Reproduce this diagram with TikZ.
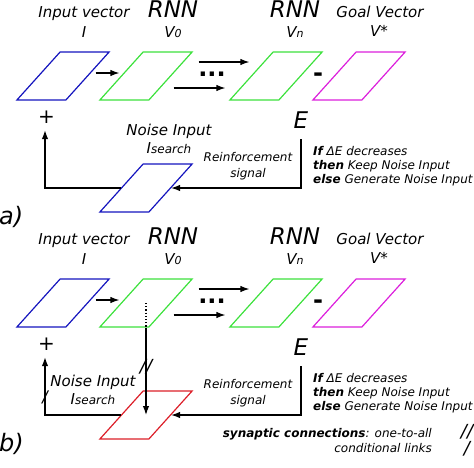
\documentclass[tikz,border=0pt]{standalone}
\usepackage{fontspec}
\setmainfont{DejaVu Sans}
\usepackage{tikz}
\usetikzlibrary{calc}
\usetikzlibrary{arrows.meta}

\definecolor{inblue}{RGB}{20,20,190}
\definecolor{rnngreen}{RGB}{60,225,60}
\definecolor{goalmag}{RGB}{220,30,220}
\definecolor{noisered}{RGB}{220,30,40}
\newcommand{\fsz}[1]{\fontsize{#1}{#1}\selectfont}

\begin{document}
\begin{tikzpicture}[x=1pt,y=-1pt,
    font=\itshape,inner sep=0pt,
    vecn/.style={draw,line width=1.2pt,minimum width=49pt,minimum height=48pt,xslant=0.9},
    titlen/.style={font=\fsz{15}\itshape,anchor=base},
    bign/.style={font=\fsz{23}\itshape,anchor=base},
    smalln/.style={font=\fontsize{12}{16}\selectfont\itshape},
    linkn/.style={line width=1.2pt,-{Latex[length=9pt,width=6.5pt]}}]
  \useasboundingbox (0,0) rectangle (474,467);
  % the two panels share the same layout
  \foreach \p/\dy/\nc in {a/0/inblue,b/227/noisered}{
  \begin{scope}[yshift=-\dy pt]
    \node[titlen] (\p-intitle) at (84,17) {Input vector};
    \node[titlen] (\p-insym) at (84,37) {I};
    \node[bign] (\p-rnn0) at (173,17.5) {RNN};
    \node[titlen] (\p-v0sym) at (173,37) {V{\fsz{11}0}};
    \node[bign] (\p-rnnn) at (295,17.5) {RNN};
    \node[titlen] (\p-vnsym) at (295,37) {V{\fsz{11}n}};
    \node[titlen] (\p-goaltitle) at (380,17) {Goal Vector};
    \node[titlen] (\p-goalsym) at (379,36) {V*};
    % vectors
    \node[vecn,draw=inblue] (\p-in) at (63,76) {};
    \node[vecn,draw=rnngreen] (\p-v0) at (146,76) {};
    \node[vecn,draw=rnngreen] (\p-vn) at (276,76) {};
    \node[vecn,draw=goalmag] (\p-goal) at (359,76) {};
    \node[vecn,draw=\nc] (\p-noise) at (146,188) {};
    \draw[linkn,shorten <=7.5pt,shorten >=1.5pt] ([yshift=3pt]\p-in.east) -- ([yshift=3pt]\p-v0.west);
    \draw[linkn,shorten <=27.5pt,shorten >=1.5pt] ([yshift=14pt]\p-v0.east) -- ([yshift=14pt]\p-vn.west);
    \draw[linkn,shorten <=2.5pt,shorten >=25.5pt] ([yshift=-12pt]\p-v0.east) -- ([yshift=-12pt]\p-vn.west);
    \node[font=\fsz{24}\upshape\bfseries,anchor=base] (\p-dots) at (212,76) {...};
    \node[font=\fsz{24}\upshape\bfseries,anchor=base] (\p-minus) at (318,81) {-};
    \node[font=\fsz{20}\upshape,anchor=base] (\p-plus) at (46.5,123.5) {+};
    \node[bign] (\p-err) at (301,128) {E};
    % reinforcement loop
    \coordinate (\p-etop) at (301,139);
    \coordinate (\p-eturn) at (301,188);
    \coordinate (\p-pturn) at (45,188);
    \draw[linkn] (\p-etop) -- (\p-eturn) -- (\p-noise.east);
    \draw[linkn,shorten >=6.5pt] (\p-noise.west) -- (\p-pturn) -- (\p-pturn |- \p-plus.south);
    \node[smalln,align=center] (\p-reinf) at (248,166) {Reinforcement\\signal};
    \node[font=\fontsize{12}{14}\selectfont\itshape,align=left,anchor=west] (\p-rule) at (313,166)
      {\textbf{If} ΔE decreases\\\textbf{then} Keep Noise Input\\\textbf{else} Generate Noise Input};
    \node[font=\fsz{24}\itshape,anchor=base west] (\p-tag) at (-1,224) {\p)};
  \end{scope}}
  % noise input labels
  \node[font=\fontsize{15}{18}\selectfont\itshape,align=center] (a-noisetitle) at (169,139)
    {Noise Input\\I{\fsz{12}search}};
  \node[font=\fontsize{15}{18}\selectfont\itshape,align=center] (b-noisetitle) at (93,389.5)
    {Noise Input\\I{\fsz{12}search}};
  % one-to-all link from V0 to the noise input
  \coordinate (b-v0low) at (b-v0.center |- b-v0.south);
  \draw[dotted,line width=1.2pt] (b-v0.center) -- (b-v0low);
  \draw[linkn] (b-v0low) -- (b-noise.center);
  \node[font=\fsz{18}\itshape] (b-allmark) at (146,367) {//};
  \node[font=\fsz{16}\itshape] (b-condmark) at (45,397) {/};
  % legend
  \node[font=\fsz{12}\itshape,anchor=base east] (b-syn) at (432,437)
    {\textbf{synaptic connections}: one-to-all};
  \node[font=\fsz{12}\itshape,anchor=base east] (b-cond) at (432,452) {conditional links};
  \node[font=\fsz{18}\itshape] (b-synmark) at (467,432) {//};
  \node[font=\fsz{18}\itshape] (b-condlmark) at (467,449) {/};
\end{tikzpicture}
\end{document}
